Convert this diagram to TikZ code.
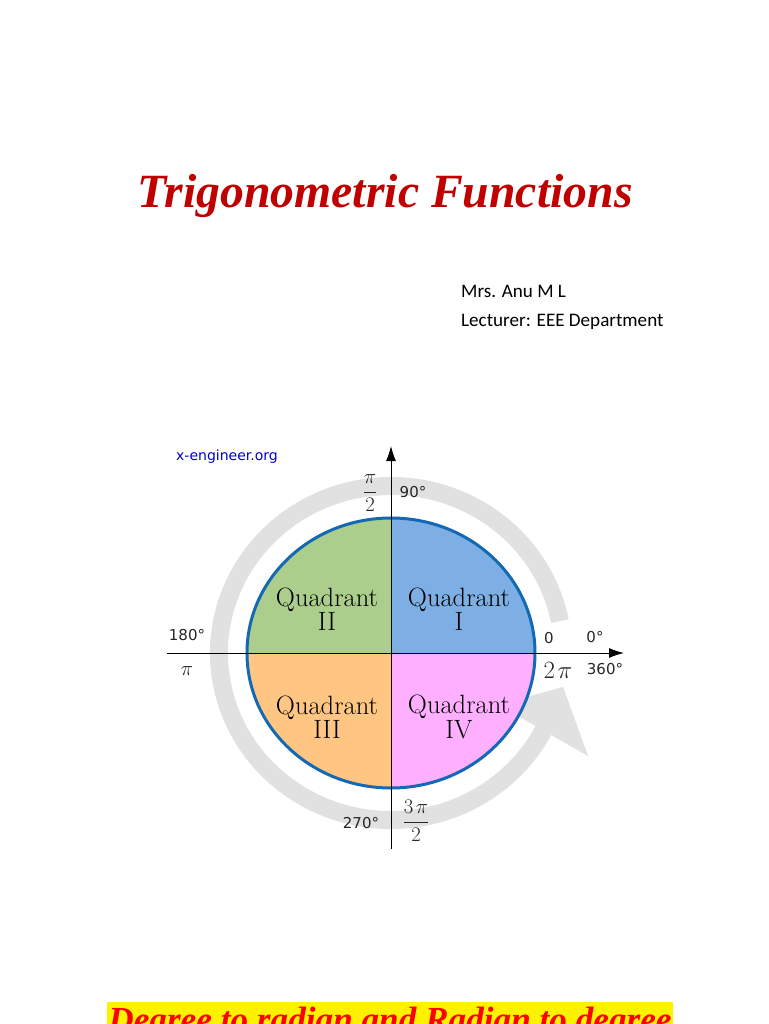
\documentclass[tikz,border=0pt]{standalone}
\usepackage{amsmath}
\usepackage{fontspec}
\setmainfont{Latin Modern Roman}
\newfontfamily\titlefont{Liberation Serif}
\newfontfamily\bodyfont{Carlito}
\newfontfamily\anglefont{DejaVu Sans}
\usetikzlibrary{arrows.meta}
\definecolor{darkred}{RGB}{192,0,0}
\definecolor{ringgrey}{RGB}{225,225,225}
\definecolor{rimblue}{RGB}{20,105,180}
\definecolor{quadI}{RGB}{125,175,228}
\definecolor{quadII}{RGB}{172,206,140}
\definecolor{quadIII}{RGB}{254,198,130}
\definecolor{quadIV}{RGB}{255,175,255}
\tikzset{
	quadlabel/.style={align=center, font=\fontsize{26.5}{22}\selectfont, inner sep=0pt},
	angle/.style={font=\anglefont\fontsize{15}{15}\selectfont, inner sep=0pt, text=black!85},
	radian/.style={font=\fontsize{23}{23}\selectfont, inner sep=0pt, text=black!85},
	axisline/.style={-{Latex[length=15pt,width=10pt]}, line width=1pt, black}
}
\begin{document}
\begin{tikzpicture}[x=1pt,y=-1pt]
	\useasboundingbox (0,0) rectangle (768,1024);
	\fill [white] (0,0) rectangle (768,1024);

	\node (T) at (385,196) {\titlefont\fontsize{47.7}{48}\selectfont\bfseries\itshape\textcolor{darkred}{Trigonometric Functions}};
	\node (N) [anchor=west, inner sep=0pt] at (461,291) {\bodyfont\fontsize{19.1}{19}\selectfont Mrs. Anu M L};
	\node (L) [anchor=west, inner sep=0pt] at (461,322) {\bodyfont\fontsize{19.1}{19}\selectfont Lecturer: EEE Department};
	\node (W) [anchor=west, inner sep=0pt, text=blue!80!black] at (176,457) {\anglefont\fontsize{14}{14}\selectfont x-engineer.org};

	% grey ring with its head
	\draw [ringgrey, line width=18pt] (391,653) ++(-11:172 and 167) arc [start angle=-11, end angle=-333, x radius=172, y radius=167];
	\fill [ringgrey] (563,687) -- (588,756) -- (520,717) -- (527,697) -- cycle;

	% quadrants
	\fill [quadI] (391,653) -- (535,653) arc [start angle=0, end angle=-90, x radius=144, y radius=135] -- cycle;
	\fill [quadII] (391,653) -- (391,518) arc [start angle=-90, end angle=-180, x radius=144, y radius=135] -- cycle;
	\fill [quadIII] (391,653) -- (247,653) arc [start angle=180, end angle=90, x radius=144, y radius=135] -- cycle;
	\fill [quadIV] (391,653) -- (391,788) arc [start angle=90, end angle=0, x radius=144, y radius=135] -- cycle;
	\fill [ringgrey, opacity=0.35] (563,687) -- (588,756) -- (520,717) -- (527,697) -- cycle;
	\draw [rimblue, line width=3pt] (391,653) ellipse [x radius=144, y radius=135];

	\node (Q1) [quadlabel] at (459,609) {Quadrant\\I};
	\node (Q2) [quadlabel] at (327,609) {Quadrant\\II};
	\node (Q3) [quadlabel] at (327,717) {Quadrant\\III};
	\node (Q4) [quadlabel] at (459,717) {Quadrant\\IV};

	\coordinate (xs) at (167,653);
	\coordinate (xe) at (624,653);
	\coordinate (ys) at (391,849);
	\coordinate (ye) at (391,446);
	\draw [axisline] (xs) -- (xe);
	\draw [axisline] (ys) -- (ye);

	\node (a90) [angle] at (413,492) {90°};
	\node (a180) [angle] at (187,635) {180°};
	\node (a0) [angle] at (595,637) {0°};
	\node (a360) [angle] at (605,669) {360°};
	\node (a270) [angle] at (361,823) {270°};
	\node (z) [angle] at (549,638) {0};

	\node (r90) [radian] at (370,493) {\fontsize{20}{20}\selectfont$\dfrac{\pi}{2}$};
	\node (r180) [radian] at (187,671) {\fontsize{22}{22}\selectfont$\pi$};
	\node (r360) [radian] at (558,670) {$2\mkern2mu\pi$};
	\node (r270) [radian] at (416,821) {\fontsize{20}{20}\selectfont$\dfrac{3\mkern2mu\pi}{2}$};

	\fill [yellow] (107,1002) rectangle (673,1024);
	\node (B) [anchor=base] at (390,1031) {\titlefont\fontsize{35.2}{35}\selectfont\bfseries\itshape\textcolor{red}{Degree to radian and Radian to degree}};
\end{tikzpicture}
\end{document}
